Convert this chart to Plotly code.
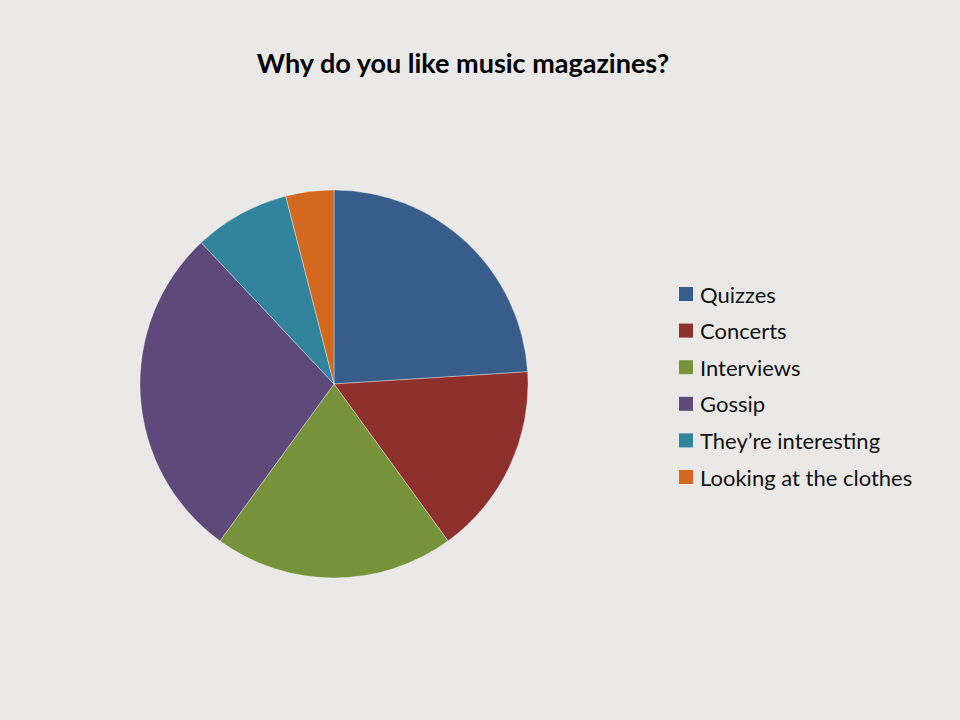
'''
Pie chart: why people like music magazines
'''

import plotly.graph_objects as go

reasons = ['Quizzes', 'Concerts', 'Interviews', 'Gossip',
           'They\u2019re interesting', 'Looking at the clothes']
votes = [6, 4, 5, 7, 2, 1]
slice_colors = ['#385D8A', '#8E302C', '#76923B', '#5E4A7A', '#31849B', '#D2691F']

W, H = 960, 720

fig = go.Figure()
fig.add_pie(labels=reasons, values=votes,
            sort=False,
            direction='clockwise',
            rotation=0,
            textinfo='none',
            hoverinfo='label+percent',
            showlegend=False,
            marker=dict(colors=slice_colors,
                        line=dict(color='rgba(255,255,255,0.35)', width=1)),
            domain=dict(x=[140 / W, 528 / W], y=[1 - 578 / H, 1 - 190 / H]))

# legend drawn by hand so the row spacing matches the original
for i, (name, color) in enumerate(zip(reasons, slice_colors)):
    yc = 294 + 36.6 * i
    fig.add_shape(type='rect', xref='paper', yref='paper',
                  x0=679 / W, x1=693 / W,
                  y0=1 - (yc + 7) / H, y1=1 - (yc - 7) / H,
                  fillcolor=color, line_width=0)
    fig.add_annotation(text=name, xref='paper', yref='paper',
                       x=698 / W, y=1 - yc / H,
                       xanchor='left', yanchor='middle',
                       showarrow=False,
                       font=dict(size=22, color='#111111'))

fig.update_layout(
    width=W, height=H,
    margin=dict(l=0, r=0, t=0, b=0),
    paper_bgcolor='#EBE9E7',
    plot_bgcolor='#EBE9E7',
    font=dict(family='Lato, Open Sans, sans-serif', color='#111111'),
    title=dict(text='<b>Why do you like music magazines?</b>',
               x=463 / W, xanchor='center',
               y=1 - 64 / H, yanchor='middle',
               font=dict(size=27, color='#000000')),
)

fig.write_html("out.html", config={'displayModeBar': False},
               post_script="document.body.style.margin='0';")
